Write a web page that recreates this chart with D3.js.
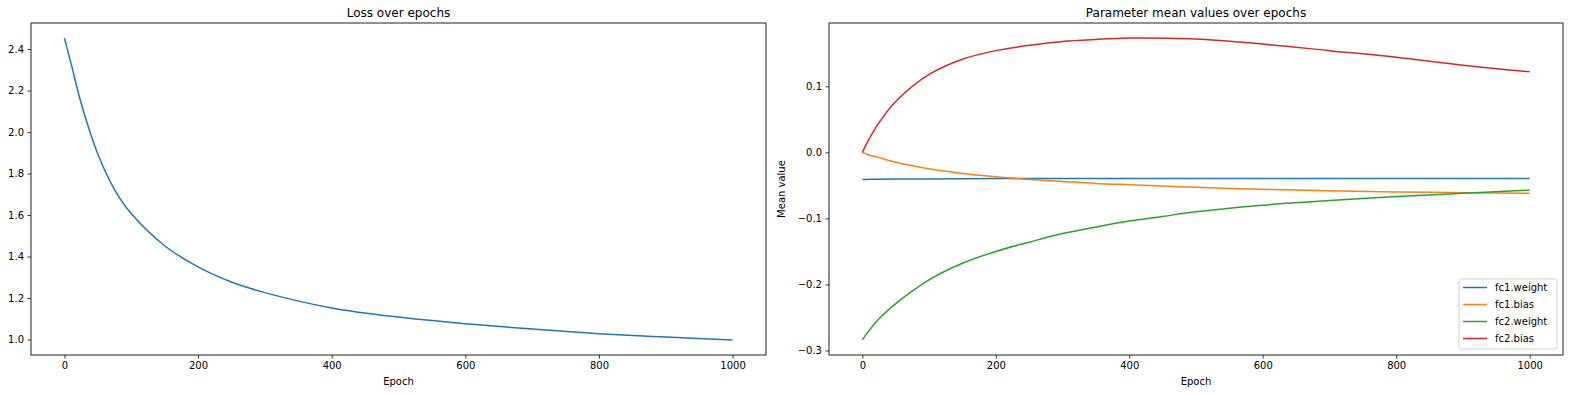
<!DOCTYPE html>
<html>
<head>
<meta charset="utf-8">
<script src="https://cdn.jsdelivr.net/npm/d3@7"></script>
<style>
  body { margin: 0; background: #fff; }
  text { font-family: "DejaVu Sans", sans-serif; fill: #000; }
</style>
</head>
<body>
<div id="chart"></div>
<script>
// values
let lossEpochs = [0, 10, 25, 50, 75, 100, 150, 200, 250, 300, 400, 500, 600, 700, 800, 900, 1000];
let lossValues = [2.453, 2.33, 2.14, 1.894, 1.723, 1.607, 1.452, 1.35, 1.277, 1.226, 1.152, 1.108, 1.076, 1.05, 1.028, 1.012, 0.998];

let paramEpochs = [0, 10, 25, 50, 100, 150, 200, 250, 300, 350, 400, 450, 500, 600, 700, 800, 900, 1000];
let fc1Weight = [-0.041, -0.0409, -0.0407, -0.0405, -0.0402, -0.0399, -0.0397, -0.0396, -0.0396, -0.0395, -0.0395, -0.0395, -0.0395, -0.0395, -0.0395, -0.0395, -0.0395, -0.0395];
let fc1Bias = [0, -0.004, -0.008, -0.015, -0.025, -0.032, -0.037, -0.041, -0.044, -0.047, -0.049, -0.051, -0.053, -0.056, -0.058, -0.060, -0.061, -0.062];
let fc2Weight = [-0.284, -0.27, -0.252, -0.229, -0.193, -0.168, -0.150, -0.136, -0.123, -0.113, -0.104, -0.097, -0.090, -0.080, -0.073, -0.067, -0.062, -0.057];
let fc2Bias = [0, 0.02, 0.045, 0.077, 0.118, 0.141, 0.154, 0.162, 0.168, 0.171, 0.173, 0.1728, 0.1715, 0.164, 0.154, 0.144, 0.132, 0.122];

let seriesNames = ["fc1.weight", "fc1.bias", "fc2.weight", "fc2.bias"];
let seriesColors = ["#1f77b4", "#ff7f0e", "#2ca02c", "#d62728"];
let xTicks = [0, 200, 400, 600, 800, 1000];
let lossTicks = [1.0, 1.2, 1.4, 1.6, 1.8, 2.0, 2.2, 2.4];
let meanTicks = [-0.3, -0.2, -0.1, 0.0, 0.1];

let W = 1577, H = 394;

let svg = d3.select("#chart").append("svg")
  .attr("width", W)
  .attr("height", H);

// matplotlib style 5% margins
function padded(lo, hi) {
  let p = (hi - lo) * 0.05;
  return [lo - p, hi + p];
}

function drawPanel(box, xDomain, yDomain, yTickVals, title, xLabel, yLabel) {
  let x = d3.scaleLinear().domain(xDomain).range([box.left, box.right]);
  let y = d3.scaleLinear().domain(yDomain).range([box.bottom, box.top]);

  let xAxis = svg.append("g")
    .attr("transform", "translate(0," + box.bottom + ")")
    .call(d3.axisBottom(x).tickValues(xTicks).tickFormat(d3.format("d")).tickSize(3.5).tickPadding(3.5));
  let yAxis = svg.append("g")
    .attr("transform", "translate(" + box.left + ",0)")
    .call(d3.axisLeft(y).tickValues(yTickVals).tickFormat(d3.format(".1f")).tickSize(3.5).tickPadding(3.5));

  [xAxis, yAxis].forEach((g) => {
    g.select(".domain").remove();
    g.selectAll("line").attr("stroke", "#000").attr("stroke-width", 0.8);
    g.selectAll("text").attr("font-size", 10).attr("font-family", "DejaVu Sans").attr("fill", "#000");
  });

  svg.append("text")
    .attr("x", (box.left + box.right) / 2)
    .attr("y", 16.5)
    .attr("text-anchor", "middle")
    .attr("font-size", 12)
    .text(title);

  svg.append("text")
    .attr("x", (box.left + box.right) / 2)
    .attr("y", 384.5)
    .attr("text-anchor", "middle")
    .attr("font-size", 10)
    .text(xLabel);

  if (yLabel) {
    svg.append("text")
      .attr("transform", "translate(" + (box.left - 44) + "," + (box.top + box.bottom) / 2 + ") rotate(-90)")
      .attr("text-anchor", "middle")
      .attr("font-size", 10)
      .text(yLabel);
  }

  return { x: x, y: y };
}

function drawFrame(box) {
  svg.append("rect")
    .attr("x", box.left)
    .attr("y", box.top)
    .attr("width", box.right - box.left)
    .attr("height", box.bottom - box.top)
    .attr("fill", "none")
    .attr("stroke", "#222")
    .attr("stroke-width", 1);
}

// left panel: loss
let leftBox = { left: 31, right: 766, top: 23, bottom: 355 };
let ls = drawPanel(leftBox,
  padded(d3.min(lossEpochs), d3.max(lossEpochs)),
  padded(d3.min(lossValues), d3.max(lossValues)),
  lossTicks, "Loss over epochs", "Epoch", null);

let lossLine = d3.line()
  .x((d, i) => ls.x(lossEpochs[i]))
  .y((d) => ls.y(d))
  .curve(d3.curveCatmullRom.alpha(0.5));

svg.append("path")
  .datum(lossValues)
  .attr("d", lossLine)
  .attr("fill", "none")
  .attr("stroke", "#1f77b4")
  .attr("stroke-width", 1.5);

drawFrame(leftBox);

// right panel: parameter means
let paramSeries = [fc1Weight, fc1Bias, fc2Weight, fc2Bias];
let allParams = paramSeries.flat();
let rightBox = { left: 829, right: 1563, top: 23, bottom: 355 };
let rs = drawPanel(rightBox,
  padded(d3.min(paramEpochs), d3.max(paramEpochs)),
  padded(d3.min(allParams), d3.max(allParams)),
  meanTicks, "Parameter mean values over epochs", "Epoch", "Mean value");

let paramLine = d3.line()
  .x((d, i) => rs.x(paramEpochs[i]))
  .y((d) => rs.y(d))
  .curve(d3.curveCatmullRom.alpha(0.5));

svg.selectAll(".param")
  .data(paramSeries)
  .enter()
  .append("path")
  .attr("class", "param")
  .attr("d", paramLine)
  .attr("fill", "none")
  .attr("stroke", (d, i) => seriesColors[i])
  .attr("stroke-width", 1.5);

drawFrame(rightBox);

// legend, lower right
let legend = svg.append("g").attr("transform", "translate(1459,279)");
legend.append("rect")
  .attr("width", 98)
  .attr("height", 70)
  .attr("rx", 2.5)
  .attr("fill", "#fff")
  .attr("fill-opacity", 0.8)
  .attr("stroke", "#d0d0d0")
  .attr("stroke-width", 1);

let items = legend.selectAll(".item")
  .data(seriesNames)
  .enter()
  .append("g")
  .attr("class", "item")
  .attr("transform", (d, i) => "translate(0," + (8.5 + i * 17) + ")");

items.append("line")
  .attr("x1", 4)
  .attr("x2", 28)
  .attr("stroke", (d, i) => seriesColors[i])
  .attr("stroke-width", 1.5);

items.append("text")
  .attr("x", 36)
  .attr("dy", "0.35em")
  .attr("font-size", 10)
  .text((d) => d);
</script>
</body>
</html>
